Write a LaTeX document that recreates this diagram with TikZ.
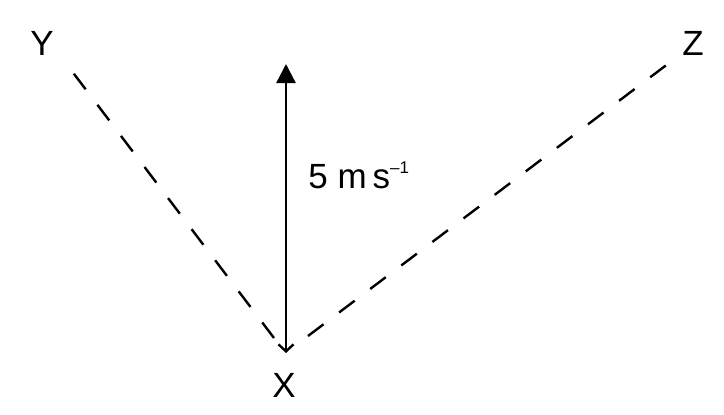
\documentclass[tikz,border=0pt]{standalone}
\usepackage{fontspec}
\setmainfont{Liberation Sans}
\usetikzlibrary{arrows.meta}
\begin{document}
\begin{tikzpicture}[x=0.5pt,y=-0.5pt,
  lbl/.style={font=\fontsize{17.5}{20}\selectfont, inner sep=0pt},
  dline/.style={line width=1.2pt, dash pattern=on 9.75pt off 9.75pt},
  vec/.style={line width=1.2pt, {Straight Barb[length=3.5pt,width=7.5pt]}-{Triangle[length=9.5pt,width=9.5pt]}}]
\useasboundingbox (0,0) rectangle (724,414);
\node[lbl] (Y) at (42,43) {Y};
\node[lbl] (Z) at (693,43) {Z};
\node[lbl] (X) at (284,385) {X};
\coordinate (xb) at (286,353);
\coordinate (xt) at (286,64);
\coordinate (ya) at (274,338);
\coordinate (yb) at (65,62);
\coordinate (za) at (308,336);
\coordinate (zb) at (677,57);
\draw[dline] (ya) -- (yb);
\draw[dline] (za) -- (zb);
\draw[vec] (xb) -- (xt);
\node[lbl, anchor=base west] (v) at (308,188) {5 m\,s\raisebox{7.5pt}{\fontsize{8.5}{9}\selectfont –1}};
\end{tikzpicture}
\end{document}
